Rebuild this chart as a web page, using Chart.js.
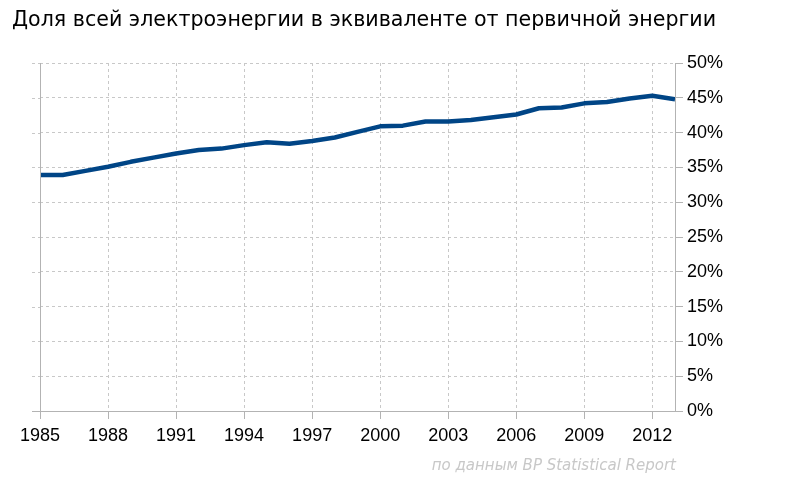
<!DOCTYPE html>
<html><head><meta charset="utf-8">
<script src="https://cdn.jsdelivr.net/npm/chart.js@4"></script>
<style>
html,body{margin:0;padding:0;background:#fff;}
#wrap{position:relative;width:800px;height:490px;}
#title{position:absolute;left:12px;top:7px;font-family:"DejaVu Sans";font-size:20.6px;color:#000;white-space:nowrap;}
#src{position:absolute;right:124px;top:456px;font-family:"DejaVu Sans";font-style:italic;font-size:15px;color:#c8c8c8;white-space:nowrap;}
canvas{position:absolute;left:0;top:0;}
</style></head>
<body><div id="wrap">
<canvas id="c" width="800" height="490"></canvas>
<div id="title">Доля всей электроэнергии в эквиваленте от первичной энергии</div>
<div id="src">по данным BP Statistical Report</div>
</div>
<script>
const years = [1985,1986,1987,1988,1989,1990,1991,1992,1993,1994,1995,1996,1997,1998,1999,2000,2001,2002,2003,2004,2005,2006,2007,2008,2009,2010,2011,2012,2013];
const share = [33.9,33.9,34.5,35.1,35.8,36.4,37.0,37.5,37.7,38.2,38.6,38.4,38.8,39.3,40.1,40.9,41.0,41.6,41.6,41.8,42.2,42.6,43.5,43.6,44.2,44.4,44.9,45.3,44.8];
const xTicks = [1985,1988,1991,1994,1997,2000,2003,2006,2009,2012];
const yTicks = [0,5,10,15,20,25,30,35,40,45,50];

const gridColor = '#c8c8c8';
const axisColor = '#b3b3b3';

const extras = {
  id:'extras',
  afterDraw(chart){
    const {ctx, chartArea:a, scales:{y}} = chart;
    ctx.save();
    ctx.strokeStyle = axisColor; ctx.lineWidth = 1;
    ctx.beginPath();
    ctx.moveTo(a.left+0.5, a.top); ctx.lineTo(a.left+0.5, a.bottom);
    ctx.moveTo(a.left-8, a.bottom+0.5); ctx.lineTo(a.left, a.bottom+0.5);
    ctx.stroke();
    ctx.strokeStyle = gridColor;
    ctx.setLineDash([3,3]);
    ctx.beginPath();
    yTicks.slice(1).forEach(v=>{ const py = Math.round(y.getPixelForValue(v))+0.5; ctx.moveTo(a.left-8,py); ctx.lineTo(a.left,py); });
    ctx.stroke();
    ctx.restore();
  }
};

new Chart(document.getElementById('c'), {
  type:'line',
  data:{ datasets:[{ data: years.map((yr,i)=>({x:yr,y:share[i]})), borderColor:'#004586', borderWidth:4.5, pointRadius:0, tension:0, fill:false, borderJoinStyle:'round', borderCapStyle:'butt' }]},
  options:{
    responsive:false, animation:false, devicePixelRatio:1,
    layout:{padding:{top:63,left:40,right:0,bottom:0}},
    plugins:{legend:{display:false}, tooltip:{enabled:false}, title:{display:false}},
    scales:{
      x:{ type:'linear', min:1985, max:2013,
        afterBuildTicks(s){ s.ticks = xTicks.map(v=>({value:v})); },
        afterFit(s){ s.height = 79; },
        grid:{ color:gridColor, drawTicks:true, tickLength:8, tickColor:axisColor, lineWidth:1 },
        border:{ display:true, color:axisColor, dash:[3,3] },
        ticks:{ color:'#000', font:{family:'Liberation Sans', size:18}, padding:6, maxRotation:0, autoSkip:false, callback:v=>String(v) }
      },
      y:{ type:'linear', position:'right', min:0, max:50,
        afterBuildTicks(s){ s.ticks = yTicks.map(v=>({value:v})); },
        afterFit(s){ s.width = 125; },
        grid:{ color:gridColor, drawTicks:true, tickLength:8, tickColor:axisColor },
        border:{ display:true, color:axisColor, dash:[3,3] },
        ticks:{ color:'#000', font:{family:'Liberation Sans', size:18}, padding:4, callback:v=>v+'%' }
      }
    }
  },
  plugins:[extras]
});
</script>
</body></html>
